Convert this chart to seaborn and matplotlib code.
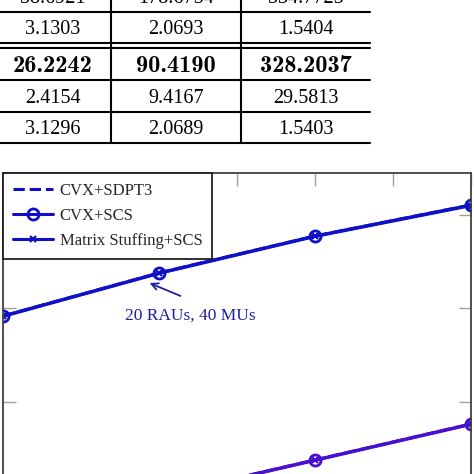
import numpy as np
import pandas as pd
import matplotlib
matplotlib.use("Agg")
import matplotlib.pyplot as plt
import seaborn as sns
from matplotlib.lines import Line2D

# ---------------- data ----------------
table_rows = [
    ["38.6921", "178.6754", "334.7725"],
    ["3.1303", "2.0693", "1.5404"],
    ["26.2242", "90.4190", "328.2037"],
    ["2.4154", "9.4167", "29.5813"],
    ["3.1296", "2.0689", "1.5403"],
]
bold_row = 2

x_vals = [1, 2, 3, 4]
methods = ["CVX+SDPT3", "CVX+SCS", "Matrix Stuffing+SCS"]
upper_vals = {
    "CVX+SDPT3": [1.92, 2.38, 2.775, 3.107],
    "CVX+SCS": [1.92, 2.38, 2.775, 3.107],
    "Matrix Stuffing+SCS": [1.915, 2.375, 2.77, 3.10],
}
lower_vals = {
    "CVX+SDPT3": [-0.40, -0.005, 0.38, 0.765],
    "CVX+SCS": [-0.40, -0.005, 0.38, 0.765],
    "Matrix Stuffing+SCS": [-0.405, -0.01, 0.375, 0.76],
}
annotation = "20 RAUs, 40 MUs"

# ---------------- figure ----------------
sns.set_theme(style="white")
plt.rcParams["font.family"] = ["Liberation Serif", "DejaVu Serif"]

W = 474
fig = plt.figure(figsize=(4.74, 4.74), dpi=100)

def fx(x):
    return x / W

def fy(y):
    return 1 - y / W

# ---- table ----
lw_t = 1.5
for yy in [12, 43, 48, 80, 112, 143]:
    fig.add_artist(Line2D([fx(0), fx(370)], [fy(yy), fy(yy)], color="black", lw=lw_t,
                          transform=fig.transFigure))
for xx in [111, 241]:
    fig.add_artist(Line2D([fx(xx), fx(xx)], [fy(-5), fy(143)], color="black", lw=lw_t,
                          transform=fig.transFigure))

col_centers = [53, 176, 306]
baselines = [3, 34, 72, 103, 134]
for r, row in enumerate(table_rows):
    for c, val in enumerate(row):
        if r == bold_row:
            fig.text(fx(col_centers[c]), fy(baselines[r]), val, ha="center", va="baseline",
                     fontsize=17.5, fontweight="bold", family=["cmb10", "DejaVu Serif"],
                     color="black")
        else:
            fig.text(fx(col_centers[c]), fy(baselines[r]), val, ha="center", va="baseline",
                     fontsize=14.5, color="black")

# ---- plot ----
ax = fig.add_axes([fx(3), fy(560), (471 - 3) / W, (560 - 173) / W])

rows = []
for grp, vals in [("upper", upper_vals), ("lower", lower_vals)]:
    for m in methods:
        for xv, yv in zip(x_vals, vals[m]):
            rows.append({"x": xv, "y": yv, "method": m, "group": grp})
df = pd.DataFrame(rows)

colors = {"upper": "#1010c8", "lower": "#4a10d0"}
styles = {
    "CVX+SDPT3": dict(linestyle="--", marker=None),
    "CVX+SCS": dict(linestyle="-", marker="o"),
    "Matrix Stuffing+SCS": dict(linestyle="-", marker="x"),
}
LW = 2.2
for grp in ["upper", "lower"]:
    col = colors[grp]
    for m in methods:
        d = df[(df.group == grp) & (df.method == m)]
        st = styles[m]
        if st["marker"] == "o":
            kw = dict(marker="o", markersize=8, markerfacecolor="none",
                      markeredgecolor=col, markeredgewidth=2.0)
        elif st["marker"] == "x":
            kw = dict(marker="x", markersize=5, markeredgecolor=col, markeredgewidth=1.6)
        else:
            kw = {}
        sns.lineplot(data=d, x="x", y="y", ax=ax, color=col, lw=LW,
                     linestyle=st["linestyle"], legend=False, **kw)

ax.set_xlim(1, 4)
ax.set_ylim(-0.690, 3.449)
ax.set_xticks(np.arange(1, 4.01, 0.5))
ax.set_yticks([0, 1, 2, 3])
ax.set_xticklabels([])
ax.set_yticklabels([])
ax.set_xlabel("")
ax.set_ylabel("")
ax.tick_params(axis="both", direction="in", length=9, width=1.0, color="#a0a0a0",
               top=True, right=True, bottom=True, left=True)
for s in ax.spines.values():
    s.set_color("#404040")
    s.set_linewidth(1.3)
    s.set_zorder(5)

handles = [
    Line2D([], [], color="#1010c8", lw=LW, linestyle="--"),
    Line2D([], [], color="#1010c8", lw=LW, marker="o", markersize=8,
           markerfacecolor="none", markeredgewidth=2.0),
    Line2D([], [], color="#1010c8", lw=LW, marker="x", markersize=5, markeredgewidth=1.6),
]
leg = ax.legend(handles, methods, loc="upper left", bbox_to_anchor=(0, 1),
                fontsize=12, frameon=True, fancybox=False, edgecolor="#202020",
                framealpha=1, borderaxespad=0, handlelength=2.4, handletextpad=0.4,
                labelspacing=0.54, borderpad=0.6)
leg.get_frame().set_linewidth(1.3)

fig.text(fx(190), fy(316), annotation, ha="center", va="center", fontsize=12.5,
         color="#1e1ea0")
ax.annotate("", xy=(147, W - 282), xycoords="figure pixels",
            xytext=(183, W - 297), textcoords="figure pixels",
            arrowprops=dict(arrowstyle="->", color="#1e1ea0", lw=1.3))

fig.savefig("out.png", dpi=100)
